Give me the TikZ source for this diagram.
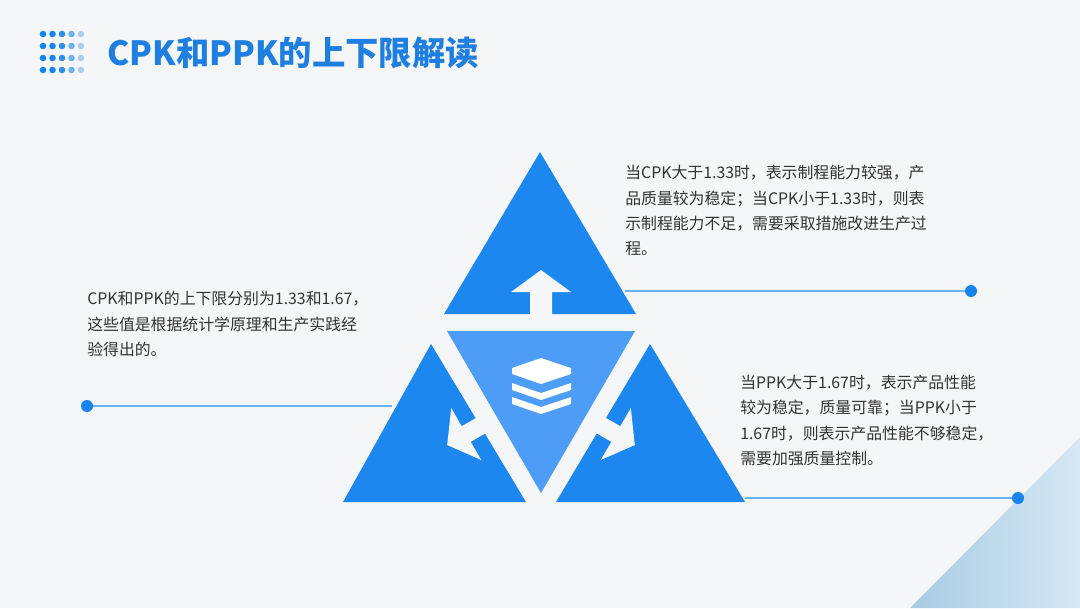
\documentclass[tikz,border=0pt]{standalone}
\usepackage{fontspec}
\newfontfamily\cjk{Noto Sans CJK SC}
\usetikzlibrary{shapes.geometric}
\definecolor{bg}{HTML}{F5F6F8}
\definecolor{tri}{HTML}{1C87EE}
\definecolor{mid}{HTML}{4D9CF5}
\definecolor{ttl}{HTML}{1E7FE0}
\definecolor{ln}{HTML}{6AB2F3}
\definecolor{dot}{HTML}{1A84EC}
\definecolor{txt}{HTML}{333333}
\tikzset{
  body/.style={font=\cjk\fontsize{11.9pt}{19pt}\selectfont, text=txt, align=left, anchor=north west, inner sep=0pt},
  cline/.style={draw=ln, line width=1pt},
  enddot/.style={circle, fill=dot, minimum size=9pt, inner sep=0pt},
  arr/.style={fill=bg, draw=none}
}
\begin{document}
\begin{tikzpicture}[x=0.75pt,y=-0.75pt]
\useasboundingbox (0,0) rectangle (1080,608);
\fill[bg] (0,0) rectangle (1080,608);
\shade[left color={rgb,255:red,168;green,204;blue,228}, right color={rgb,255:red,214;green,232;blue,243}] (910,608) -- (1080,437) -- (1080,608) -- cycle;
% dot grid
\foreach \c/\op in {0/1,1/1,2/0.9,3/0.6,4/0.35}{
  \foreach \r in {0,1,2,3}{
    \fill[dot, opacity=\op] (43+\c*9.5, 34+\r*12) circle (3.3);
  }
}
\node[font=\cjk\bfseries\fontsize{25pt}{28pt}\selectfont, text=ttl, anchor=west, inner sep=0pt] (title) at (107,53) {CPK和PPK的上下限解读};
% triangles
\fill[tri] (540,152) -- (636,314) -- (444,314) -- cycle;
\fill[mid] (447,331) -- (635,331) -- (541,493) -- cycle;
\fill[tri] (431,344) -- (526,502) -- (343,502) -- cycle;
\fill[tri] (650,344) -- (745,502) -- (556,502) -- cycle;
% arrows
\def\arrowshape{(-9,4) -- (-9,-24) -- (-30,-24) -- (0,-46) -- (30,-24) -- (9,-24) -- (9,4) -- cycle}
\fill[arr, shift={(541,316)}] (-11,4) -- (-11,-24) -- (-30,-24) -- (0,-46) -- (30,-24) -- (11,-24) -- (11,4) -- cycle;
\fill[arr, shift={(487,422)}, rotate=120] \arrowshape;
\fill[arr, shift={(595,422)}, rotate=-120] \arrowshape;
% layers icon
\fill[white] (512,368) -- (541,358) -- (571,368) -- (571,374) -- (541,384) -- (512,374) -- cycle;
\fill[white] (512,383) -- (512,390) -- (541,400) -- (571,390) -- (571,383) -- (541,393) -- cycle;
\fill[white] (512,397) -- (512,404) -- (541,414) -- (571,404) -- (571,397) -- (541,407) -- cycle;
% connectors
\node[enddot] (d1) at (971,291) {};
\coordinate (c1) at (625,291);
\draw[cline] (c1) -- (d1);
\node[enddot] (d2) at (87,406) {};
\coordinate (c2) at (392,406);
\draw[cline] (d2) -- (c2);
\node[enddot] (d3) at (1018,498) {};
\coordinate (c3) at (745,498);
\draw[cline] (c3) -- (d3);
% texts
\node[body] (t1) at (625,165) {当CPK大于1.33时，表示制程能力较强，产\\品质量较为稳定；当CPK小于1.33时，则表\\示制程能力不足，需要采取措施改进生产过\\程。};
\node[body] (t2) at (87,291) {CPK和PPK的上下限分别为1.33和1.67，\\这些值是根据统计学原理和生产实践经\\验得出的。};
\node[body] (t3) at (740,375) {当PPK大于1.67时，表示产品性能\\较为稳定，质量可靠；当PPK小于\\1.67时，则表示产品性能不够稳定，\\需要加强质量控制。};
\end{tikzpicture}
\end{document}
